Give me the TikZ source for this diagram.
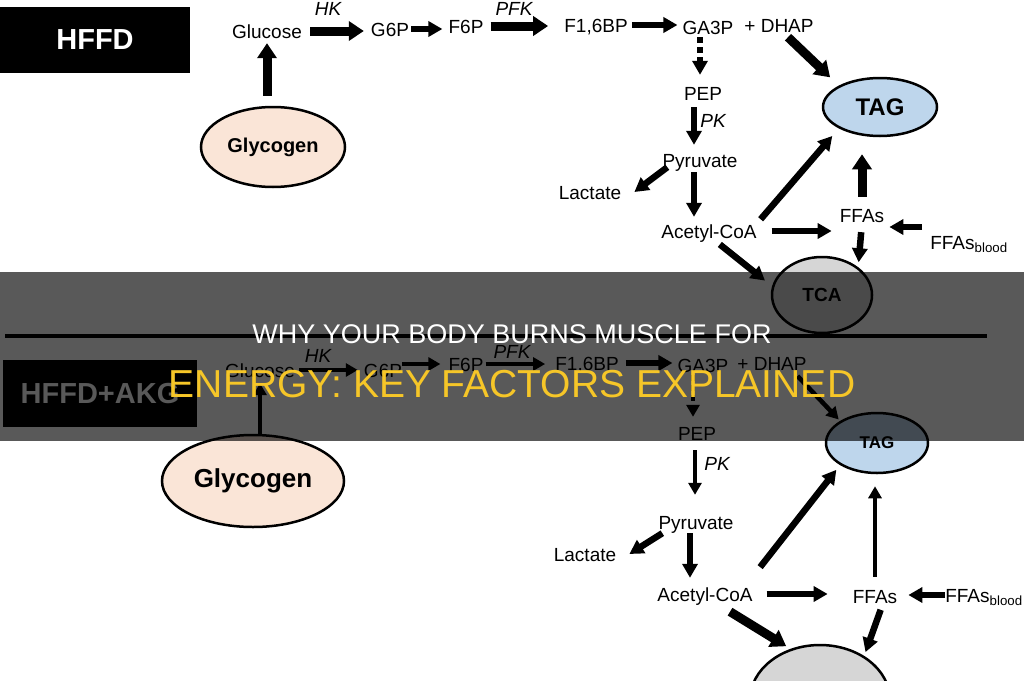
\documentclass[tikz,border=0pt]{standalone}
\usepackage{fontspec}
\setmainfont{Liberation Sans}
\usepackage{tikz}
\usetikzlibrary{shapes.geometric, arrows.meta, positioning, calc}
\definecolor{glycfill}{RGB}{250,229,215}
\definecolor{tagfill}{RGB}{190,214,236}
\definecolor{tcafill}{RGB}{214,214,214}
\definecolor{titleyellow}{RGB}{246,198,40}
\tikzset{
  met/.style={font=\fontsize{19}{22}\selectfont, inner sep=0pt, text height=14pt, text depth=0pt, anchor=base},
  enz/.style={met, font=\fontsize{19}{22}\selectfont\itshape},
  pool/.style={ellipse, draw, line width=2.5pt, inner sep=0pt},
  panel/.style={rectangle, fill=black, text=white, inner sep=0pt, font=\fontsize{29}{34}\selectfont\bfseries},
  ttl/.style={anchor=base, inner sep=0pt},
  bigarrow/.style={line width=9pt, -{Triangle[length=15pt, width=19pt]}},
  arrow/.style={line width=6.5pt, -{Triangle[length=14pt, width=15pt]}},
  smallarrow/.style={line width=4.5pt, -{Triangle[length=12pt, width=13pt]}},
  dotarrow/.style={dash pattern=on 6pt off 4pt}
}

\begin{document}
\begin{tikzpicture}[x=1pt, y=-1pt]
  \fill[white] (0,0) rectangle (1024,680);
  \useasboundingbox (0,0) rectangle (1024,680);

  % HFFD
  \node[panel, minimum width=190pt, minimum height=66pt] (hffd) at (95,40) {HFFD};
  \node[met] (glu) at (267,38) {Glucose};
  \node[enz] (hk) at (328,15) {HK};
  \node[met] (g6p) at (390,36) {G6P};
  \node[met] (f6p) at (466,33) {F6P};
  \node[enz] (pfk) at (514,15) {PFK};
  \node[met] (f16) at (596,32) {F1,6BP};
  \node[met] (ga3p) at (708,34) {GA3P};
  \node[met] (dhap) at (779,32) {+ DHAP};
  \node[met] (pep) at (703,100) {PEP};
  \node[enz] (pk) at (713,127) {PK};
  \node[met] (pyr) at (700,167) {Pyruvate};
  \node[met] (lac) at (590,199) {Lactate};
  \node[met] (acoa) at (709,238) {Acetyl-CoA};
  \node[met] (ffa) at (862,222) {FFAs};
  \node[met] (ffab) at (969,249) {FFAs\textsubscript{blood}};
  \node[pool, fill=glycfill, minimum width=144pt, minimum height=80pt, font=\fontsize{20}{24}\selectfont\bfseries] (glyc) at (273,147) {Glycogen};
  \node[pool, fill=tagfill, minimum width=114pt, minimum height=58pt, font=\fontsize{24}{28}\selectfont\bfseries] (tag) at (880,107) {TAG};
  \node[pool, fill=tcafill, minimum width=100pt, minimum height=76pt, font=\fontsize{19}{22}\selectfont\bfseries] (tca) at (822,295) {TCA};

  \draw[bigarrow, shorten <=10pt, shorten >=5pt] (glyc.north -| glu.south) -- (glu.south);
  \draw[bigarrow, shorten <=8pt, shorten >=7pt] (glu.east) -- (glu.east -| g6p.west);
  \draw[arrow, shorten <=2pt, shorten >=6pt] (g6p.east) -- (g6p.east -| f6p.west);
  \draw[bigarrow, shorten <=7pt, shorten >=16pt] (f6p.east) -- (f6p.east -| f16.west);
  \draw[arrow, shorten <=4pt, shorten >=5pt] (f16.east) -- (f16.east -| ga3p.west);
  \draw[arrow, dotarrow, shorten <=3pt, shorten >=11pt] ([xshift=-3pt]pep.north |- ga3p.south) -- ([xshift=-3pt]pep.north);
  \draw[arrow, shorten <=7pt, shorten >=8pt] ([xshift=-9pt]pep.south) -- ([xshift=-9pt]pep.south |- pyr.north);
  \draw[arrow] ([xshift=5pt]pyr.south west) -- ([xshift=13pt]lac.east);
  \draw[arrow, shorten <=5pt, shorten >=7pt] ([xshift=-6pt]pyr.south) -- ([xshift=-6pt]pyr.south |- acoa.north);
  \draw[arrow, shorten <=6pt, shorten >=10pt] (acoa.north east) -- (tag.south west);
  \draw[arrow, shorten <=15pt, shorten >=8pt] (acoa.east) -- (acoa.east -| ffa.west);
  \draw[arrow, shorten <=10pt, shorten >=9pt] ([xshift=3pt]acoa.south) -- (tca.170);
  \draw[bigarrow, shorten >=12pt] ([xshift=9pt, yshift=-5pt]dhap.south) -- (tag.north west);
  \draw[bigarrow, shorten <=11pt, shorten >=17pt] (ffa.north) -- (ffa.north |- tag.south);
  \draw[arrow, shorten <=10pt, shorten >=5pt] (ffa.south) -- (tca.north east);
  \draw[arrow, shorten <=8pt, shorten >=5pt] ([yshift=15pt]ffab.west) -- ([yshift=15pt]ffab.west -| ffa.east);

  \draw[line width=3.5pt] (5,336) -- (987,336);

  % HFFD+AKG
  \node[panel, minimum width=194pt, minimum height=67pt] (hffd2) at (100,393.5) {HFFD+AKG};
  \node[met] (glu2) at (260,377) {Glucose};
  \node[enz] (hk2) at (318,362) {HK};
  \node[met] (g6p2) at (383,377) {G6P};
  \node[met] (f6p2) at (466,371) {F6P};
  \node[enz] (pfk2) at (512,358) {PFK};
  \node[met] (f162) at (587,370) {F1,6BP};
  \node[met] (ga3p2) at (703,372) {GA3P};
  \node[met] (dhap2) at (772,370) {+ DHAP};
  \node[met] (pep2) at (697,440) {PEP};
  \node[enz] (pk2) at (717,470) {PK};
  \node[met] (pyr2) at (696,529) {Pyruvate};
  \node[met] (lac2) at (585,561) {Lactate};
  \node[met] (acoa2) at (705,601) {Acetyl-CoA};
  \node[met] (ffa2) at (875,603) {FFAs};
  \node[met] (ffab2) at (984,602) {FFAs\textsubscript{blood}};
  \node[pool, fill=glycfill, minimum width=182pt, minimum height=92pt, font=\fontsize{26}{30}\selectfont\bfseries] (glyc2) at (253,481) {Glycogen};
  \node[pool, fill=tagfill, minimum width=102pt, minimum height=60pt, font=\fontsize{17}{20}\selectfont\bfseries] (tag2) at (877,443) {TAG};
  \node[pool, fill=tcafill, minimum width=140pt, minimum height=110pt] (tca2) at (820,700) {};

  \draw[smallarrow, shorten >=6pt] (glyc2.north -| glu2.south) -- (glu2.south);
  \draw[smallarrow, shorten <=4pt, shorten >=6pt] (glu2.east) -- (glu2.east -| g6p2.west);
  \draw[smallarrow, shorten >=8pt] (f6p2.west -| g6p2.east) -- (f6p2.west);
  \draw[smallarrow, shorten <=2pt, shorten >=10pt] (f6p2.east) -- (f6p2.east -| f162.west);
  \draw[arrow, shorten <=7pt, shorten >=5pt] (f162.east) -- (f162.east -| ga3p2.west);
  \draw[smallarrow, dotarrow, shorten <=3pt, shorten >=9pt] ([xshift=-4pt]pep2.north |- ga3p2.south) -- ([xshift=-4pt]pep2.north);
  \draw[smallarrow, shorten <=8pt, shorten >=2pt] ([xshift=20pt]dhap2.south) -- (tag2.north west);
  \draw[smallarrow, shorten <=10pt, shorten >=20pt] ([xshift=-2pt]pep2.south) -- ([xshift=-2pt]pep2.south |- pyr2.north);
  \draw[arrow] ([xshift=4pt, yshift=-4pt]pyr2.south west) -- ([xshift=13pt]lac2.east);
  \draw[arrow, shorten <=4pt, shorten >=9pt] ([xshift=-6pt]pyr2.south) -- ([xshift=-6pt]pyr2.south |- acoa2.north);
  \draw[arrow, shorten <=25pt, shorten >=6pt] ([xshift=-8pt]acoa2.north east) -- (tag2.south west);
  \draw[arrow, shorten <=14pt, shorten >=25pt] (acoa2.east) -- (acoa2.east -| ffa2.west);
  \draw[bigarrow, shorten <=20pt, shorten >=5pt] ([xshift=8pt]acoa2.south) -- (tca2.120);
  \draw[smallarrow, shorten <=12pt, shorten >=12pt] (ffa2.north) -- (ffa2.north |- tag2.south);
  \draw[arrow, shorten >=11pt] (ffab2.west) -- (ffab2.west -| ffa2.east);
  \draw[arrow, shorten <=7pt, shorten >=4pt] ([xshift=8pt]ffa2.south) -- (tca2.45);

  % title banner
  \fill[black, fill opacity=0.65] (0,272) rectangle (1024,441);
  \node[ttl, font=\fontsize{27}{32}\selectfont, text=white] (ttl1) at (512,343) {WHY YOUR BODY BURNS MUSCLE FOR};
  \node[ttl, font=\fontsize{39}{46}\selectfont, text=titleyellow] (ttl2) at (512,397) {ENERGY: KEY FACTORS EXPLAINED};
\end{tikzpicture}
\end{document}
